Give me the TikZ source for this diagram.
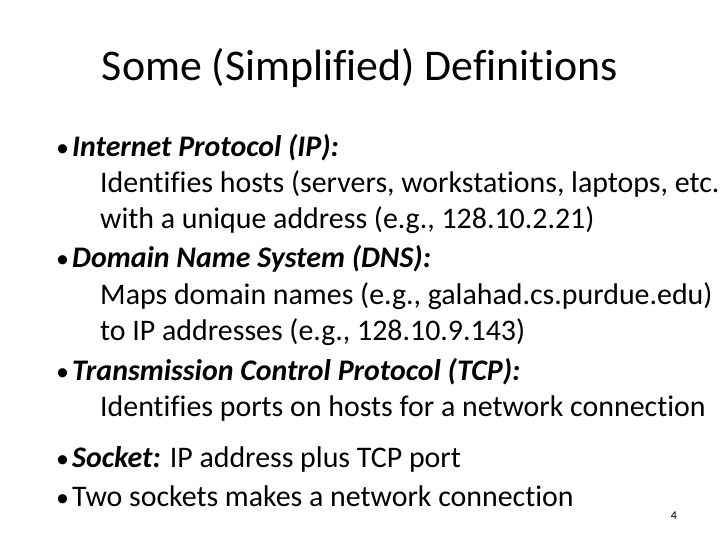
\documentclass[tikz,border=0pt]{standalone}
\usepackage{fontspec}
\setmainfont[Ligatures=NoCommon]{Carlito}
\begin{document}
\begin{tikzpicture}[x=1bp,y=-1bp,
 ln/.style={anchor=base west,inner sep=0pt,font=\fontsize{30}{34}\selectfont},
 bl/.style={anchor=base west,inner sep=0pt,font=\fontsize{26}{30}\selectfont}]
\useasboundingbox (0,0) rectangle (720,540);
\node[anchor=base,inner sep=0pt,font=\fontsize{44}{48}\selectfont] (title) at (360,81) {Some (Simplified) Definitions};
\node[bl] (b1) at (56,157) {•};
\node[ln] (t1) at (72,157) {\textbf{\textit{Internet Protocol (IP):}}};
\node[ln] (t1a) at (100,193) {Identifies hosts (servers, workstations, laptops, etc.)};
\node[ln] (t1b) at (100,229) {with a unique address (e.g., 128.10.2.21)};
\node[bl] (b2) at (56,268) {•};
\node[ln] (t2) at (72,268) {\textbf{\textit{Domain Name System (DNS):}}};
\node[ln] (t2a) at (100,304) {Maps domain names (e.g., galahad.cs.purdue.edu)};
\node[ln] (t2b) at (100,340) {to IP addresses (e.g., 128.10.9.143)};
\node[bl] (b3) at (56,380) {•};
\node[ln] (t3) at (72,380) {\textbf{\textit{Transmission Control Protocol (TCP):}}};
\node[ln] (t3a) at (100,416) {Identifies ports on hosts for a network connection};
\node[bl] (b4) at (56,467) {•};
\node[ln] (t4) at (72,467) {\textbf{\textit{Socket:}} IP address plus TCP port};
\node[bl] (b5) at (56,506) {•};
\node[ln] (t5) at (72,506) {Two sockets makes a network connection};
\node[anchor=base,inner sep=0pt,font=\fontsize{12}{13}\selectfont] (pg) at (674,519) {4};
\end{tikzpicture}
\end{document}
